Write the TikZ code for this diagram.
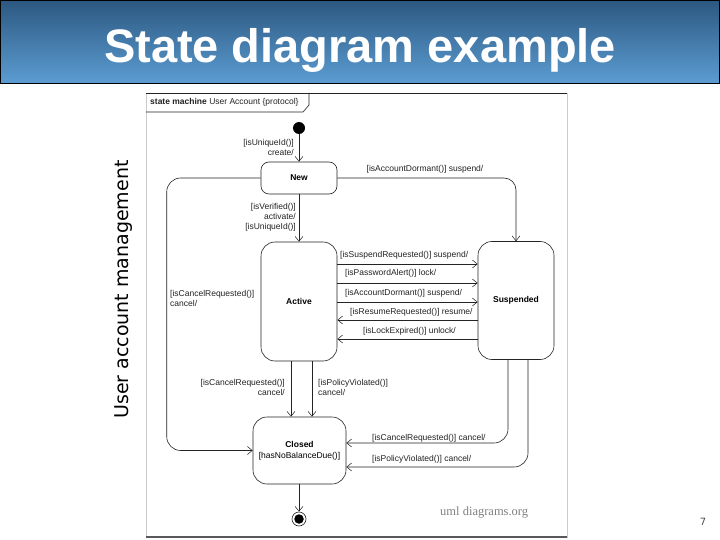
\documentclass[tikz,border=0pt]{standalone}
\usepackage{fontspec}
\setmainfont{Liberation Sans}
\newfontfamily\dejavu{DejaVu Sans}
\newfontfamily\serifw{Liberation Serif}
\usetikzlibrary{arrows.meta}
\definecolor{bartop}{RGB}{44,88,128}
\definecolor{barbot}{RGB}{92,157,211}
\definecolor{ink}{RGB}{35,35,35}
\tikzset{
  ustate/.style={draw=ink, line width=0.6pt, rounded corners=#1, align=center,
    font=\fontsize{8.5}{11}\selectfont\bfseries, inner sep=0pt},
  tr/.style={draw=ink, line width=0.6pt, -{Straight Barb[length=5pt,width=8pt,line width=0.5pt]}},
  lbl/.style={font=\fontsize{8.5}{10}\selectfont, text=ink, inner sep=0pt},
}
\begin{document}
\begin{tikzpicture}[x=1pt,y=-1pt]
\useasboundingbox (0,0) rectangle (720,540);
\fill[white] (0,0) rectangle (720,540);
% title bar
\shade[top color=bartop,bottom color=barbot] (0,0) rectangle (720,84);
\draw[black,line width=1.2pt] (0.6,0.6) rectangle (719.4,83.5);
\node[font=\fontsize{47}{50}\selectfont\bfseries, text=white, anchor=base] (title) at (360,63) {State diagram example};
% side text
\node[font=\dejavu\fontsize{19}{22}\selectfont, rotate=90, anchor=base west, inner sep=0pt] (side) at (128,419) {User account management};
% frame
\draw[gray!40, line width=0.8pt] (146,93) rectangle (567,537);
\draw[gray!70!black, line width=1.5pt] (146,537) -- (567,537);
\draw[ink, line width=0.6pt] (146,93) -- (567,93);
\draw[ink, line width=0.6pt] (146,112) -- (303,112) -- (309,105) -- (309,93);
\node[lbl, anchor=west] (tab) at (150,102) {\textbf{state machine} User Account \{protocol\}};
% states
\node[circle, fill=black, minimum size=12pt, inner sep=0pt] (init) at (299,128) {};
\node[ustate=8pt, minimum width=76pt, minimum height=32pt] (new) at (299,178) {New};
\node[ustate=14pt, minimum width=76pt, minimum height=119pt] (act) at (299,301.5) {Active};
\node[ustate=14pt, minimum width=76pt, minimum height=118pt] (susp) at (516,300.5) {Suspended};
\node[ustate=14pt, minimum width=93pt, minimum height=67pt] (closed) at (299.5,450.5) {Closed\\{}\mdseries[hasNoBalanceDue()]};
\node[circle, draw=ink, line width=0.6pt, minimum size=14pt, inner sep=0pt] (fin) at (299,519) {};
\node[circle, fill=black, minimum size=9.5pt, inner sep=0pt] (fininner) at (fin) {};
% transitions
\draw[tr] (init) -- (new);
\draw[tr] (new) -- (act);
\draw[tr, rounded corners=12pt] (new.east) -| (susp.north);
\draw[tr, rounded corners=14pt] (new.west) -- ++(-94,0) |- (closed.west);
\draw[tr] (act.east |- 0,264) -- (susp.west |- 0,264);
\draw[tr] (act.east |- 0,283) -- (susp.west |- 0,283);
\draw[tr] (act.east |- 0,302) -- (susp.west |- 0,302);
\draw[tr] (susp.west |- 0,320) -- (act.east |- 0,320);
\draw[tr] (susp.west |- 0,339) -- (act.east |- 0,339);
\draw[tr] (act.south -| 291,0) -- (closed.north -| 291,0);
\draw[tr] (act.south -| 312,0) -- (closed.north -| 312,0);
\draw[tr, rounded corners=14pt] (susp.south -| 508,0) |- (closed.east |- 0,443);
\draw[tr, rounded corners=14pt] (susp.south -| 528,0) |- (closed.east |- 0,467);
\draw[tr] (closed.south -| fin) -- (fin.north);
% labels
\node[lbl, align=right, anchor=east] (l1) at (294,147) {[isUniqueId()]\\{}create/};
\node[lbl, align=right, anchor=east] (l2) at (296,217) {[isVerified()]\\{}activate/\\{}[isUniqueId()]};
\node[lbl] (l3) at (425,169) {[isAccountDormant()] suspend/};
\node[lbl, align=left, anchor=west] (l4) at (170,298) {[isCancelRequested()]\\{}cancel/};
\node[lbl, anchor=west] (l5) at (340,255) {[isSuspendRequested()] suspend/};
\node[lbl, anchor=west] (l6) at (345,273) {[isPasswordAlert()] lock/};
\node[lbl, anchor=west] (l7) at (345,293) {[isAccountDormant()] suspend/};
\node[lbl, anchor=west] (l8) at (350,312) {[isResumeRequested()] resume/};
\node[lbl, anchor=west] (l9) at (363,331) {[isLockExpired()] unlock/};
\node[lbl, align=right, anchor=east] (l10) at (285,387.5) {[isCancelRequested()]\\{}cancel/};
\node[lbl, align=left, anchor=west] (l11) at (318,387.5) {[isPolicyViolated()]\\{}cancel/};
\node[lbl, anchor=west] (l12) at (372,438) {[isCancelRequested()] cancel/};
\node[lbl, anchor=west] (l13) at (372,459) {[isPolicyViolated()] cancel/};
% watermark and page number
\node[font=\serifw\fontsize{12.5}{14}\selectfont, text=gray, anchor=west, inner sep=0pt] (wm) at (440,513) {uml diagrams.org};
\node[font=\dejavu\fontsize{10}{12}\selectfont, text=black!70] (pg) at (703,522) {7};
\end{tikzpicture}
\end{document}
